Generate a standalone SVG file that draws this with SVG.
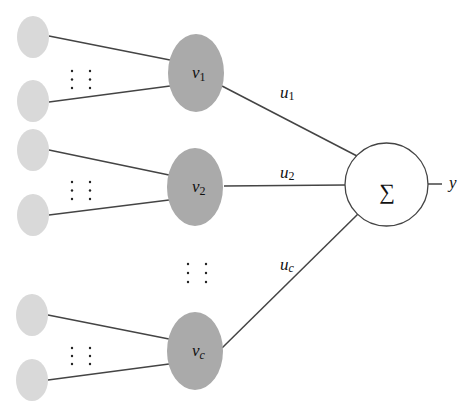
<svg xmlns="http://www.w3.org/2000/svg" width="474" height="417" viewBox="0 0 474 417">
<style>
.in{fill:#d9d9d9;stroke:none}
.hid{fill:#aaaaaa;stroke:none}
.sum{fill:#fff;stroke:#444;stroke-width:1.3}
.c line{stroke:#444;stroke-width:1.5}
.t{font-family:"Liberation Serif",serif;font-style:italic;font-size:17px;fill:#111}
.s{font-size:12px}
.d{fill:#222}
</style>
<rect width="474" height="417" fill="#fff"/>
<g class="c" id="connectors">
<line x1="49" y1="36" x2="170" y2="60"/>
<line x1="49" y1="102" x2="170" y2="86"/>
<line x1="49" y1="150" x2="169" y2="175"/>
<line x1="49" y1="215" x2="169" y2="200"/>
<line x1="48" y1="315" x2="169" y2="339"/>
<line x1="48" y1="380" x2="169" y2="364"/>
<line x1="222" y1="86" x2="357" y2="156"/>
<line x1="224" y1="186" x2="345" y2="185"/>
<line x1="222" y1="348" x2="358" y2="214"/>
<line x1="428" y1="184" x2="442" y2="184"/>
</g>
<g id="x1"><ellipse class="in" cx="33" cy="37" rx="16" ry="21"/></g>
<g id="x2"><ellipse class="in" cx="33" cy="101" rx="16" ry="21"/></g>
<g id="x3"><ellipse class="in" cx="33" cy="150" rx="16" ry="21"/></g>
<g id="x4"><ellipse class="in" cx="33" cy="215" rx="16" ry="21"/></g>
<g id="x5"><ellipse class="in" cx="32" cy="315" rx="16" ry="21"/></g>
<g id="x6"><ellipse class="in" cx="32" cy="380" rx="16" ry="21"/></g>
<g id="dots">
<g class="d">
<circle cx="72" cy="71" r="1.2"/><circle cx="72" cy="79.5" r="1.2"/><circle cx="72" cy="88" r="1.2"/>
<circle cx="90" cy="71" r="1.2"/><circle cx="90" cy="79.5" r="1.2"/><circle cx="90" cy="88" r="1.2"/>
<circle cx="72" cy="182" r="1.2"/><circle cx="72" cy="190.5" r="1.2"/><circle cx="72" cy="199" r="1.2"/>
<circle cx="90" cy="182" r="1.2"/><circle cx="90" cy="190.5" r="1.2"/><circle cx="90" cy="199" r="1.2"/>
<circle cx="72" cy="348" r="1.2"/><circle cx="72" cy="356" r="1.2"/><circle cx="72" cy="364" r="1.2"/>
<circle cx="90" cy="348" r="1.2"/><circle cx="90" cy="356" r="1.2"/><circle cx="90" cy="364" r="1.2"/>
<circle cx="188" cy="264" r="1.2"/><circle cx="188" cy="273" r="1.2"/><circle cx="188" cy="282" r="1.2"/>
<circle cx="206" cy="264" r="1.2"/><circle cx="206" cy="273" r="1.2"/><circle cx="206" cy="282" r="1.2"/>
</g>
</g>
<g id="v1"><ellipse class="hid" cx="196" cy="73" rx="28" ry="39"/><text class="t" x="192" y="78">v<tspan class="s" dy="3" font-style="normal">1</tspan></text></g>
<g id="v2"><ellipse class="hid" cx="195" cy="187" rx="28" ry="39"/><text class="t" x="192" y="192">v<tspan class="s" dy="3" font-style="normal">2</tspan></text></g>
<g id="vc"><ellipse class="hid" cx="195" cy="351" rx="28" ry="39"/><text class="t" x="192" y="356">v<tspan class="s" dy="3">c</tspan></text></g>
<g id="sum"><circle class="sum" cx="386.5" cy="184.5" r="41.5"/><text x="387" y="199" text-anchor="middle" font-family="Liberation Serif, serif" font-size="22" fill="#111">∑</text></g>
<g id="labels">
<text class="t" x="280" y="98">u<tspan class="s" dy="2" font-style="normal">1</tspan></text>
<text class="t" x="280" y="178">u<tspan class="s" dy="2" font-style="normal">2</tspan></text>
<text class="t" x="280" y="270">u<tspan class="s" dy="2">c</tspan></text>
<text class="t" x="449" y="188">y</text>
</g>
</svg>
